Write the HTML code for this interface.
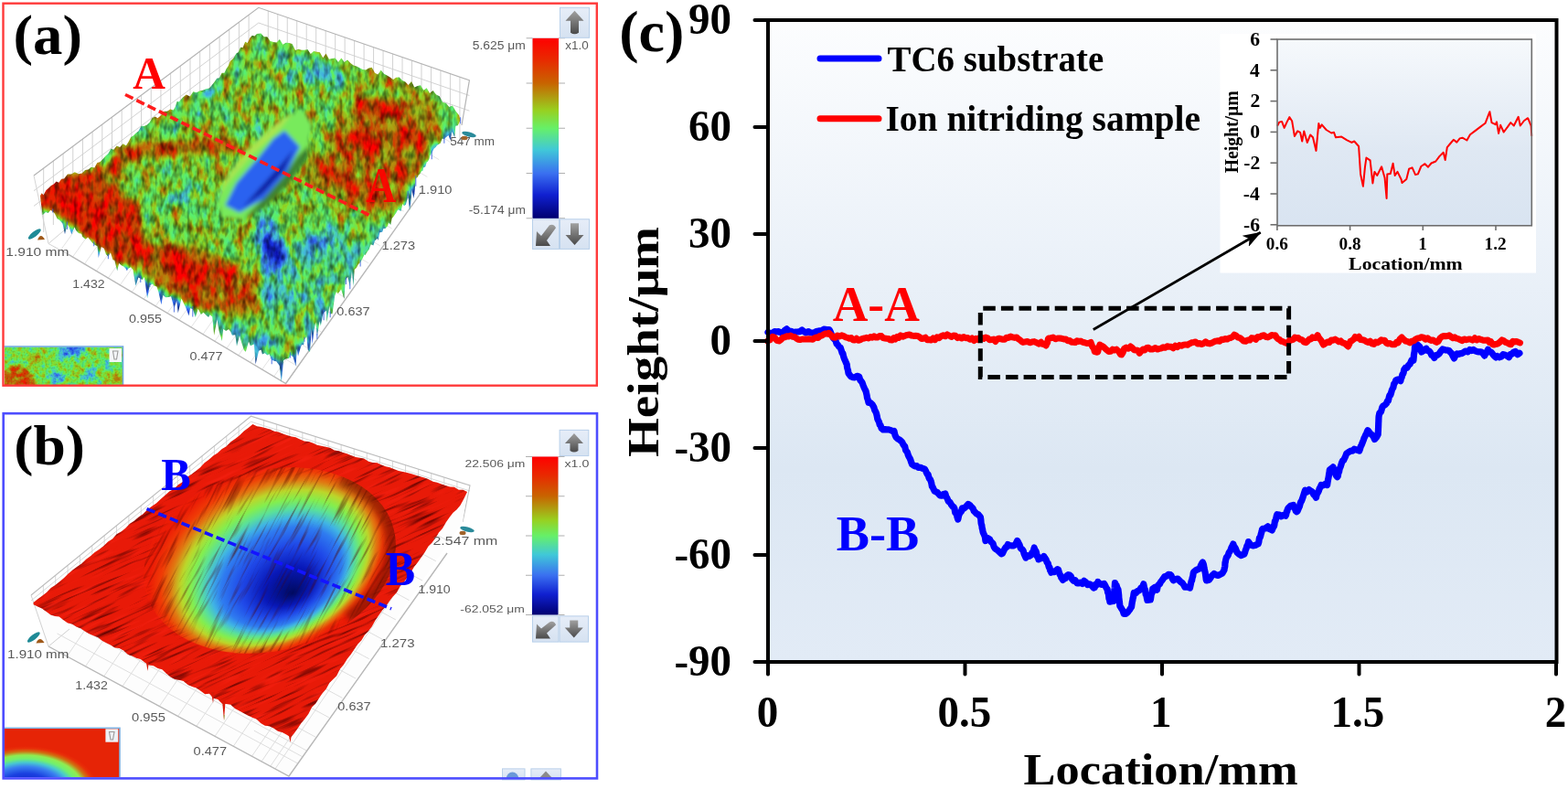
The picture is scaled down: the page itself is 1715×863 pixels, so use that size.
<!DOCTYPE html>
<html><head><meta charset="utf-8"><title>Surface morphology and cross-section profiles</title>
<style>
html,body{margin:0;padding:0;background:#fff;}
body{width:1715px;height:863px;overflow:hidden;}
svg{display:block;filter:blur(0.45px);}
</style></head><body>
<svg width="1715" height="863" viewBox="0 0 1715 863">
<defs>
<linearGradient id="plotbg" x1="0" y1="0" x2="0" y2="1">
<stop offset="0" stop-color="#fcfdfe"/>
<stop offset="0.35" stop-color="#ecf2f9"/>
<stop offset="0.7" stop-color="#dce7f3"/>
<stop offset="1" stop-color="#e2ebf6"/>
</linearGradient>
<linearGradient id="insetbg" x1="0" y1="0" x2="0" y2="1">
<stop offset="0" stop-color="#f6f9fc"/>
<stop offset="0.6" stop-color="#dfe8f3"/>
<stop offset="1" stop-color="#d9e4f1"/>
</linearGradient>
<linearGradient id="jet" x1="0" y1="0" x2="0" y2="1">
<stop offset="0" stop-color="#ff0000"/>
<stop offset="0.12" stop-color="#e82a00"/>
<stop offset="0.25" stop-color="#c86400"/>
<stop offset="0.4" stop-color="#98d020"/>
<stop offset="0.5" stop-color="#66f068"/>
<stop offset="0.62" stop-color="#40c8d8"/>
<stop offset="0.75" stop-color="#3a70f0"/>
<stop offset="0.87" stop-color="#1020d0"/>
<stop offset="1" stop-color="#000070"/>
</linearGradient>
<linearGradient id="btn" x1="0" y1="0" x2="0" y2="1">
<stop offset="0" stop-color="#e6edf8"/>
<stop offset="1" stop-color="#d6e2f1"/>
</linearGradient>
<linearGradient id="arrowg" x1="0" y1="0" x2="0" y2="1">
<stop offset="0" stop-color="#a0a0a0"/>
<stop offset="1" stop-color="#4a4a4a"/>
</linearGradient>
<marker id="ah" viewBox="0 0 20 14" refX="19" refY="7" markerWidth="20" markerHeight="14" markerUnits="userSpaceOnUse" orient="auto">
<path d="M0,0 L20,7 L0,14 L5,7 Z" fill="#000"/>
</marker>
</defs>

<rect x="840" y="22" width="862.5" height="702" fill="url(#plotbg)"/>
<rect x="1334.5" y="37" width="345.5" height="261.5" fill="#fff"/>
<rect x="1397" y="43" width="278.3" height="203.8" fill="url(#insetbg)"/>
<path d="M840,363.4 L842.5,364.9 L845,364.2 L847.2,362.5 L849.4,363 L851.6,362.6 L853.8,363.8 L856,364.8 L858.2,361.4 L860.4,359.8 L863.2,362.5 L865.5,362.3 L867.7,364.2 L870,363 L872.5,363 L875,362.6 L877.2,361 L879.4,362.8 L881.7,363.9 L884,362.6 L886.3,363.7 L888.1,364.1 L890,364.2 L892.8,362.5 L895.6,361.9 L898.3,361.9 L901,360.2 L903,360.4 L905,360.7 L907,360.6 L908,362.3 L909,364.8 L910,367.2 L911.3,369.7 L912.6,371 L913.8,372.1 L915.1,376.1 L916.4,377.2 L917.8,379.4 L919.2,380.1 L920.6,384.4 L921.2,386.3 L921.9,386.6 L922.5,389.5 L923.6,392.8 L924.6,394.9 L925.7,397.6 L926.2,398.5 L926.6,402 L927.1,403.8 L927.5,405.1 L928,408.2 L929.6,410.6 L931.1,412 L932.7,412.6 L935,412.8 L937.4,411.3 L939.7,411.9 L940.8,415.7 L942,417 L943.1,418.6 L944.3,422 L945.4,424.7 L946.6,427 L947.1,428.1 L947.6,430.3 L948.1,432.5 L948.5,435.2 L949,436.5 L949.5,438.1 L950,440.4 L952,440.6 L953.9,442.2 L955.9,445.6 L956.6,448.4 L957.2,449.3 L957.9,450.7 L958.5,452.1 L959.2,455 L959.8,458.3 L960.5,459.8 L961.4,461.4 L962.2,464.6 L963.1,465.2 L964,468.2 L966,470 L968,469.6 L970,469.8 L972,469.9 L974.4,470.6 L976.7,471.8 L977.9,471.4 L979,476 L980.2,478.4 L982.1,480.1 L984.1,481.2 L986,482.9 L986.9,483.9 L987.8,485.9 L988.8,487.4 L989.7,488.3 L990.6,492.4 L991.5,493.6 L992.4,494.6 L993.2,497.5 L994.1,499.5 L995,501.1 L995.9,503.1 L996.7,505.7 L997.6,507.9 L999.3,509.1 L1001,509.8 L1002.8,509.7 L1004.5,511.4 L1006.8,511.3 L1009.2,512.4 L1011.5,513.2 L1012.4,514.9 L1013.3,516.8 L1014.2,518.7 L1015.1,519 L1016,522.5 L1016.7,524 L1017.4,524.3 L1018.1,526.1 L1018.7,528.1 L1019.4,532.1 L1020.1,532.7 L1020.8,534.3 L1022.3,537.3 L1023.9,538 L1025.4,538.8 L1028.1,541.9 L1030,542.2 L1032,540.4 L1033.9,540 L1034.8,543.2 L1035.7,544.5 L1036.5,546.2 L1037.4,548.6 L1038.9,549.1 L1040.3,551.8 L1041.8,553.7 L1043.2,554.7 L1044,556.4 L1044.7,560.6 L1045.5,561.4 L1046.3,562.5 L1047,565.6 L1047.8,568.1 L1048.7,563.8 L1049.6,561.7 L1050.6,560 L1051.5,559.5 L1052.4,555.8 L1054,556.2 L1055.7,555 L1057.3,553.4 L1059,551.4 L1060.6,552.3 L1061.7,553.7 L1062.9,554.8 L1064,555.8 L1065.2,558.9 L1066.3,560 L1068.2,562 L1070.2,562.9 L1072.1,565.3 L1072.4,565.7 L1072.8,568.3 L1073.1,572.2 L1073.5,573.9 L1073.8,574.3 L1074.2,577.8 L1074.5,578.3 L1075.1,582 L1075.6,583.3 L1076.2,584.4 L1076.8,585.8 L1077.3,587.1 L1077.9,591.5 L1080.2,588.5 L1082.6,590.1 L1083.8,592.5 L1084.9,593.4 L1086,594.4 L1087.2,598.3 L1088.5,600.2 L1089.9,601 L1091.2,602 L1092.6,603.2 L1094,604.6 L1095.3,605.8 L1096.5,605.4 L1097.6,602.9 L1098.8,600.5 L1100,598.6 L1101.1,598.4 L1102.3,595.6 L1104.6,596.7 L1106.9,596.8 L1108.8,596.8 L1110.8,595.4 L1112.7,591.4 L1113.8,593.6 L1115,595.7 L1116.2,599.3 L1117.3,600.5 L1118.2,601.1 L1119.2,602.6 L1120.1,605.7 L1121.1,608 L1122,610.1 L1123.9,607.7 L1125.9,608.4 L1127.8,607.1 L1128.9,604.3 L1130.1,603.4 L1131.2,599 L1132,602.2 L1132.8,602.4 L1133.6,604.5 L1134.3,608.5 L1135.1,608.5 L1135.9,611.9 L1137.8,610.7 L1139.8,610.6 L1141.7,608.5 L1142.8,610.2 L1144,611.8 L1145.2,615.2 L1146.3,616.2 L1146.9,619.1 L1147.5,620.9 L1148,620.7 L1148.6,623.8 L1149.2,624.5 L1149.8,626.2 L1151.5,624.9 L1153.2,625.6 L1155,624 L1156.7,622.6 L1157.5,623.2 L1158.4,626 L1159.2,628.4 L1160,629.3 L1160.8,631.8 L1161.7,632.8 L1162.5,634.4 L1164,632.9 L1165.4,632.6 L1166.8,629.7 L1168.3,628.7 L1169.8,629.1 L1171.2,630.3 L1172.6,633.5 L1174.1,635.3 L1176,634.6 L1178,637.9 L1179.9,637.9 L1181.8,637.2 L1183.8,638.5 L1185.7,635.4 L1187.6,636.7 L1189.6,639.6 L1191.5,638.8 L1193,639.5 L1194.6,641.2 L1196.1,643 L1197.3,642.6 L1198.4,639.1 L1199.6,639.6 L1200.8,636.4 L1203.1,638.8 L1205.4,639.4 L1207.7,638.4 L1208.8,640.4 L1210,643.2 L1211.1,644.3 L1211.6,647.9 L1212,648.3 L1212.5,650.3 L1213,655.1 L1213.4,655.2 L1213.9,658.2 L1216,657.8 L1218.1,657.4 L1218.2,654.6 L1218.4,654.9 L1218.5,652.9 L1218.7,650.9 L1218.8,646.4 L1218.9,644.6 L1219.1,643.6 L1219.2,642.5 L1219.4,639.2 L1219.5,637.5 L1220.4,639.6 L1221.2,640.5 L1222.1,643.4 L1223,644.9 L1223.2,646.7 L1223.4,648.2 L1223.7,650.8 L1223.9,654.8 L1224.1,655.3 L1224.3,657.8 L1224.6,659.8 L1224.8,662.6 L1225,663.1 L1226,664.6 L1227.1,666.4 L1228.2,668.1 L1229.2,671.4 L1231.3,671.5 L1233.4,669.8 L1234.5,668.2 L1235.5,667 L1236.5,665.4 L1237.6,663.7 L1238,660.7 L1238.4,658.1 L1238.8,656.7 L1239.1,654.3 L1239.5,653.6 L1239.9,650.3 L1240.3,648.3 L1242.4,648.5 L1244.5,646.2 L1246.1,645.9 L1247.7,643.3 L1249.2,642.6 L1250.8,638.8 L1251.4,642 L1252,645 L1252.6,645.2 L1253.1,649.8 L1253.7,649.8 L1254.3,653.7 L1254.9,656.5 L1258.4,656 L1258.9,652.5 L1259.3,649.8 L1259.8,648.9 L1260.3,647.9 L1260.7,644.1 L1261.2,643.7 L1263.3,642.3 L1265.4,645.1 L1266.4,640.6 L1267.5,639.3 L1268.5,638.8 L1269.5,636.5 L1270.9,634.9 L1272.3,632.9 L1273.7,630.8 L1275.8,630.2 L1277.9,628.3 L1280,628.5 L1281.1,629.6 L1282.3,633 L1283.4,634.7 L1285.7,633.5 L1288.1,633 L1290.4,635.5 L1291.8,636.8 L1293.2,637.8 L1294.6,639.6 L1296,642.2 L1298.8,642.1 L1301.5,643 L1302,640.7 L1302.5,638.3 L1303.1,635.4 L1303.6,635 L1304.1,632.2 L1304.7,630.4 L1305.2,626.8 L1305.7,625.5 L1307.6,624 L1309.4,623 L1311.3,622.4 L1312.3,621.9 L1313.3,618.7 L1314.4,616.6 L1315.4,615.1 L1316,616.3 L1316.5,617.9 L1317.1,621.5 L1317.6,623.7 L1318.2,626.3 L1318.5,628.2 L1318.9,631.3 L1319.2,633.8 L1319.6,634.9 L1322.4,634.2 L1323.8,632.4 L1325.2,630 L1326.6,628.8 L1328,627.5 L1330.3,628.9 L1332.6,629.4 L1334.9,628.1 L1337,627 L1339.1,623.2 L1339.3,621.2 L1339.6,620.4 L1339.8,619.3 L1340,615.2 L1340.3,614.8 L1340.5,613.1 L1341.4,609.6 L1342.3,608.8 L1343.2,607.4 L1344.2,604.2 L1345.1,603.3 L1346,601.6 L1346.9,598.8 L1347.9,597.2 L1348.8,595 L1349.6,597.4 L1350.5,598.5 L1351.3,599.7 L1352.2,602.1 L1353,604.2 L1355.3,606.1 L1357.7,607.6 L1360,606.5 L1360.8,606.3 L1361.6,604.4 L1362.4,601.4 L1363.1,599.9 L1363.9,596.9 L1364.7,596.5 L1365.5,592.6 L1368.2,596.3 L1371,596.9 L1373.3,596.2 L1375.6,595 L1376.2,594.8 L1376.8,592.9 L1377.4,588.5 L1378,588.2 L1378.7,586.4 L1379.3,583.8 L1379.9,581.9 L1380.5,579.1 L1381.1,578.4 L1383.9,578 L1386.7,575.9 L1388.2,578.6 L1389.8,579.1 L1391.3,580 L1391.9,578.5 L1392.5,575.9 L1393.2,576.2 L1393.8,574.4 L1394.4,570.1 L1395,569.4 L1395.7,567 L1396.3,564.2 L1396.9,562.7 L1399.2,563 L1401.5,564.9 L1403.8,563.3 L1406.1,564.2 L1406.7,562.9 L1407.2,559.7 L1407.8,559.3 L1408.3,557.2 L1408.9,555.8 L1411.7,553.2 L1414.5,552.5 L1415.4,555.1 L1416.3,556.2 L1417.3,558.9 L1418.2,559.8 L1419,559.1 L1419.8,557.4 L1420.5,555.6 L1421.3,554.1 L1422.1,551 L1422.8,548.9 L1423.6,548 L1424.4,545.8 L1425.2,543.3 L1426,540.8 L1426.7,538.6 L1427.5,536.2 L1429.7,537.9 L1431.8,535.6 L1434,537.1 L1435.4,538.2 L1436.8,541 L1438.1,542 L1439.5,544.2 L1440.4,539.9 L1441.4,538.9 L1442.3,537.1 L1443.2,534.3 L1444.2,532.8 L1445.1,530.4 L1447.3,530.9 L1449.4,529.4 L1451.6,530.6 L1451.9,528.6 L1452.3,526.1 L1452.6,524.3 L1452.9,523.2 L1453.3,520.9 L1453.6,518.3 L1454,516.6 L1454.3,513.8 L1456.2,512.4 L1458,510.9 L1458.9,513.5 L1459.9,516.3 L1460.8,518.9 L1461.8,520.7 L1462.7,521.6 L1463.3,520.8 L1463.9,517.2 L1464.6,516 L1465.2,512.7 L1465.8,511.5 L1466.4,510 L1467.5,506.2 L1468.5,504 L1469.6,503.4 L1470.6,501.3 L1471.7,498.9 L1472.7,496.1 L1473.8,495.3 L1475.7,494.2 L1477.5,493 L1479.3,493.2 L1481.2,491.2 L1484,492.1 L1486.8,493 L1487.6,490.7 L1488.3,488.2 L1489.1,487 L1489.9,484.9 L1490.6,483.1 L1491.4,481.2 L1492.2,478.7 L1492.9,477.5 L1493.7,475.6 L1494.5,474.6 L1495.2,472.3 L1496,470.7 L1497.2,472.1 L1498.5,474 L1499.8,475.1 L1501,476.1 L1502.2,477.5 L1503.5,480.5 L1505.3,478.6 L1507.2,475.3 L1507.3,472.2 L1507.4,472.1 L1507.5,469 L1507.6,466.9 L1507.7,463.7 L1507.7,463 L1507.8,461.6 L1507.9,458.7 L1508,456.4 L1508.1,455.2 L1508.9,451.6 L1509.6,451.1 L1510.4,450.5 L1511.2,447.9 L1511.9,445.3 L1512.7,444.2 L1514.7,443 L1516.6,441 L1517.4,438.8 L1518.3,438.6 L1519.2,434.8 L1520,432.1 L1520.8,432.1 L1521.7,429.1 L1522.4,426.6 L1523.2,425 L1523.9,423.7 L1524.6,420.1 L1525.3,419.4 L1526.1,417.6 L1526.8,415.9 L1529.3,415 L1531.9,416.6 L1532.5,413.6 L1533.2,412.6 L1533.8,409.6 L1534.4,409.4 L1535.1,407.7 L1535.7,404.3 L1537.3,402.1 L1538.9,402.3 L1540.5,399.7 L1542.1,398.2 L1544,393.9 L1545.9,394.4 L1546.2,391.5 L1546.4,388.4 L1546.7,386.6 L1547,385.3 L1547.3,383.2 L1547.5,379.3 L1547.8,378.4 L1550,376.8 L1552.3,378.7 L1553.1,379.6 L1554,383.2 L1554.8,385 L1557.3,383.4 L1559.9,381.2 L1561.4,383.5 L1562.9,383.9 L1564.3,385.3 L1565.8,388.4 L1567.3,388.9 L1568.8,391.5 L1570.6,388.5 L1572.4,388.3 L1574.2,386.8 L1576,384.1 L1577.8,382 L1580.7,382.8 L1583.5,383.1 L1584.9,383.5 L1586.3,385.3 L1587.7,386.5 L1589.1,389.5 L1590.5,391.9 L1592.1,388.7 L1593.7,386.9 L1595.3,387.5 L1596.9,386.6 L1599,386.6 L1601.1,385.2 L1603.2,384 L1605.4,384.9 L1607.5,382.5 L1609.6,383.6 L1611.6,382.5 L1613.7,383.9 L1615.7,384.6 L1617.8,384.8 L1619.8,384.8 L1621.8,386.2 L1623.7,389.1 L1625,386.4 L1626.2,385 L1627.5,382.3 L1629.2,385 L1630.9,385.2 L1632.6,387.2 L1634.3,389.4 L1636,390.9 L1637.7,389.5 L1639.8,390.8 L1642,390.1 L1644.1,387.7 L1646.2,388.3 L1648.3,389.3 L1650.4,390.7 L1652.1,387.5 L1653.8,387.2 L1655.5,385.1 L1657.6,384.5 L1659.8,387.7 L1661.9,386.2" fill="none" stroke="#0000ff" stroke-width="7.2" stroke-linejoin="round" stroke-linecap="round"/>
<path d="M839.4,372.9 L842.2,371.8 L845,368.3 L847.3,369.3 L849.7,372.3 L852,373 L854.1,371.6 L856.2,369.3 L858.3,368.9 L860.4,367.7 L862.5,368 L864.6,367.1 L866.7,368.3 L868.8,368.5 L870.9,369.9 L873,371.2 L875.1,371.6 L877.2,371 L879.7,371.1 L882.1,371 L884.5,370.7 L887,371 L889,371.2 L890.9,369.8 L892.9,369 L894.8,369.5 L896.8,367.5 L898.8,367.1 L900.7,365.8 L902.7,364.8 L904.6,365.2 L906.6,364.3 L908.9,366.5 L911.3,369 L913.6,369.3 L915.9,367 L918.3,368 L920.6,366.8 L922.7,367.5 L924.8,368.9 L926.9,369.4 L929,370.3 L931,369.5 L932.9,371.7 L934.9,372.1 L936.8,370.2 L938.8,372.3 L941,371.6 L943.3,370.4 L945.5,370 L947.8,369.3 L950,370 L952,368.6 L954,369.3 L956,367.8 L958,369.1 L960,368.9 L962,367.5 L964,367.6 L965.9,369.6 L967.9,370 L969.8,370.3 L971.8,370.5 L973.7,371.8 L975.6,372 L977.4,369.7 L979.3,371 L981.2,368.4 L983,369.4 L984.9,366.9 L987.4,368.3 L989.8,367.3 L992.2,366.4 L994.7,366 L996.9,367 L999.2,367.4 L1001.4,367.2 L1003.7,367.4 L1005.9,368.8 L1008,370.5 L1010.1,370.2 L1012.2,369.2 L1014.3,371.8 L1016.4,371.5 L1018.5,372 L1020.6,370 L1022.7,371.6 L1024.9,368.8 L1027.2,369.6 L1029.4,367.7 L1031.7,366.8 L1033.9,367.8 L1036.1,365.9 L1038.4,367.3 L1040.6,368.5 L1042.9,367.1 L1045.1,367.3 L1047.3,369.6 L1049.6,368.7 L1051.8,370 L1054.1,368.5 L1056.3,369.8 L1058.5,369.6 L1060.8,371.2 L1063,369.9 L1065.3,372.6 L1067.5,370.3 L1069.6,371.7 L1071.7,369.2 L1073.8,369.3 L1075.9,370.4 L1078.1,369.1 L1080.3,369.8 L1082.4,371.8 L1084.6,371.5 L1086.8,371.1 L1088.8,373.5 L1090.8,370.8 L1092.8,370.2 L1094.8,370.8 L1096.8,371.2 L1098.8,371.3 L1100.8,369.2 L1103,369.4 L1105.3,368.1 L1107.5,368.9 L1109.8,369.4 L1112,368.9 L1113.8,370.7 L1115.5,371.7 L1117.2,373.4 L1119,374.4 L1121.5,373.9 L1123.9,373.4 L1126.3,374.8 L1128.8,374 L1131.2,373.6 L1133.7,374.7 L1136.1,376.1 L1138.6,374.2 L1140.5,376.4 L1142.3,376.8 L1144.2,378 L1144.9,374.9 L1145.6,375.1 L1146.3,371 L1147,369.9 L1149.5,369.7 L1151.9,369 L1154.3,370.8 L1156.8,370 L1159,370 L1161.3,370.3 L1163.5,370.9 L1165.8,371 L1168,372.8 L1170,372.6 L1172,374.2 L1174,374.2 L1176,374.6 L1178,372.7 L1180,373.4 L1182,373.1 L1184.2,374.3 L1186.4,374.7 L1188.7,375.5 L1190.9,375.5 L1193.1,374.5 L1193.9,376.9 L1194.8,379.2 L1195.6,379.7 L1196.5,381.7 L1197.3,384.7 L1200.1,385.3 L1200.8,384.9 L1201.5,381.5 L1202.2,379 L1202.9,377.1 L1204.8,378.2 L1206.6,379.1 L1208.5,380.9 L1210.6,382.8 L1212.7,384.5 L1214.8,384.3 L1216.9,382.1 L1219,383 L1221.1,382.1 L1222.2,383.1 L1223.3,384 L1224.5,385.9 L1225.6,387.7 L1226.7,387.9 L1227.6,386.6 L1228.6,384.6 L1229.5,381.3 L1231.8,380.1 L1234.2,381.2 L1236.5,379 L1238.5,380.6 L1240.4,382.8 L1242.4,383.1 L1244.3,383.3 L1246.3,386.4 L1248.3,383.8 L1250.2,382 L1252.2,383 L1254.1,380.5 L1256.1,380.3 L1258.5,382.1 L1261,382 L1263.5,380.5 L1265.9,382.1 L1268,381.4 L1270.1,381.1 L1272.2,379.8 L1274.3,380.3 L1276.5,378.8 L1278.8,379.2 L1281,379.3 L1283.3,380.8 L1285.5,378.2 L1287.7,379.6 L1290,377.6 L1292.2,378.2 L1294.5,377.2 L1296.7,376.9 L1298.9,377.3 L1301.1,375.9 L1303.3,374.8 L1305.5,374.4 L1307.7,373.9 L1309.9,376.1 L1312.1,375.5 L1314.3,376.4 L1316.5,375.6 L1318.7,373.8 L1320.9,375.5 L1323.1,375.9 L1325.3,375.2 L1327.5,374 L1329.7,373.1 L1331.9,372.8 L1334.1,373.2 L1336.3,371.2 L1338.5,371.4 L1340.4,370.5 L1342.3,371.1 L1344.2,369.9 L1346.2,369.5 L1348.1,368.5 L1350,366.2 L1352.1,367.2 L1354.1,369.1 L1356.2,369.6 L1358.2,371.2 L1360.3,373.1 L1362.5,373.3 L1364.7,371.9 L1366.9,372.1 L1369.1,369.6 L1371.3,369.9 L1373.5,371.3 L1375.7,368.4 L1378,368.7 L1380.2,367.2 L1382.5,366.8 L1384.7,368.6 L1386.7,368.9 L1388.8,367.9 L1390.8,366.5 L1392.9,366.9 L1394.9,366.7 L1396.4,369.4 L1398,370.8 L1399.5,371.5 L1401.1,373.2 L1402.6,373.4 L1404.7,374.4 L1406.9,375.4 L1409,374.6 L1410.8,371.7 L1412.6,371.9 L1414.4,371.4 L1416.2,369.1 L1418,369.8 L1420.1,369.6 L1422.1,371.3 L1424.2,371.6 L1426.2,374.2 L1428.3,374.7 L1430.1,373.2 L1432,371.1 L1433.8,371 L1435.6,368.9 L1437.4,369.6 L1439.3,369.5 L1441.1,366.6 L1442.4,369.2 L1443.7,370.8 L1444.9,372.2 L1446.2,374.7 L1447.5,377 L1449.7,375.5 L1451.8,374 L1454,374.5 L1456.1,371.9 L1458.2,372.2 L1460.4,371.1 L1462.4,372.4 L1464.4,373.7 L1466.4,372.9 L1468.5,375 L1470.5,375.4 L1472.5,377.2 L1474.5,379 L1475.8,376.5 L1477.1,373.1 L1478.3,372.8 L1479.6,371.9 L1480.9,370.8 L1482.2,368.5 L1484.2,369.7 L1486.3,368.3 L1488.3,371.6 L1490.4,371.8 L1492.4,372.2 L1494.5,373.8 L1496.5,374.5 L1498.6,373.1 L1500.6,375.9 L1502.7,376.5 L1504.7,374.1 L1506.7,374.8 L1508.7,373.6 L1510.7,371.7 L1512.7,372.6 L1514.4,372.2 L1516.1,374.9 L1517.8,375.9 L1520.4,375.6 L1522.9,376.8 L1525.5,376.7 L1527.4,374.4 L1529.3,374.9 L1531.2,370.8 L1533.1,369 L1535.3,371.3 L1537.6,373.2 L1539.8,373.7 L1542.1,374.9 L1544.1,373.3 L1546.2,372.9 L1548.2,371.1 L1550.3,370 L1552.3,369.8 L1554.6,368.7 L1556.9,369.1 L1559.1,371.2 L1561.4,369.8 L1563.7,371.7 L1565.6,372.4 L1567.6,372 L1569.5,373.4 L1571.4,374.4 L1573.3,373.2 L1575.2,369.7 L1577.1,368.3 L1579,367.5 L1581,367.8 L1583.1,367.5 L1585.1,366.8 L1587.2,368.5 L1589.2,369.8 L1591.1,368.9 L1593.1,370.2 L1595,370.6 L1596.9,371.5 L1599.2,372.6 L1601.5,370.9 L1603.8,371.7 L1606.1,371.1 L1608.4,371.1 L1610.7,372.2 L1613,369.8 L1615.2,371.9 L1617.5,370.5 L1619.8,371.4 L1622.4,372.3 L1624.9,372.3 L1627.5,372 L1629.1,374.5 L1630.7,373.7 L1632.3,376.5 L1633.9,377.1 L1635.7,376.5 L1637.5,376.3 L1639.2,375.2 L1641,373.7 L1642.8,371.8 L1644.7,372.7 L1646.6,374.4 L1648.5,374.9 L1650.4,376.2 L1652.5,376.8 L1654.7,373.2 L1656.8,373.9 L1658.7,373.5 L1660.6,374.3 L1662.5,375" fill="none" stroke="#ff0000" stroke-width="7" stroke-linejoin="round" stroke-linecap="round"/>
<rect x="1072.3" y="337.2" width="337.3" height="75.2" fill="none" stroke="#000" stroke-width="5" stroke-dasharray="13.5 6.1" stroke-dashoffset="-3"/>
<line x1="1195.8" y1="360.5" x2="1378.7" y2="254.3" stroke="#000" stroke-width="2.8" marker-end="url(#ah)"/>
<path d="M1397.1,137.8 L1399.2,133.6 L1402,132.9 L1404.7,139.9 L1407.5,133.6 L1410.3,128.1 L1413.1,132.2 L1415.9,148.9 L1419.3,143.4 L1422.1,144.8 L1424.2,154.5 L1426.3,143.4 L1429.8,155.9 L1433.2,147.5 L1436,150.3 L1439.5,164.9 L1442.3,135 L1443.7,139.9 L1445.7,136.4 L1450.6,142 L1456.2,145.5 L1459,144.8 L1461,150.3 L1467.3,149.6 L1472.9,153.1 L1478.4,155.9 L1481.2,154.5 L1486.1,160 L1488.1,190.6 L1490.9,203.8 L1493,182.3 L1494.4,172.6 L1498.6,175.3 L1501.4,200.4 L1503.4,187.9 L1506.2,192 L1511.1,182.3 L1514.6,194.8 L1516.6,217 L1517.3,190.6 L1520.8,189.9 L1523.6,178.8 L1525.7,192 L1528.5,187.9 L1532.6,196.2 L1533.5,200.1 L1538.3,195.9 L1541.1,184.8 L1544.6,183.4 L1548.1,191.1 L1550.9,190.4 L1554.3,182 L1558.5,179.2 L1562,182.7 L1565.5,178.5 L1570.3,176.5 L1574.5,170.9 L1578.7,166.7 L1580.7,175.1 L1582.8,161.2 L1586.3,157 L1589.8,152.8 L1593.3,155.6 L1596.7,151.4 L1599.5,150.7 L1604.4,153.5 L1607.9,147.3 L1613.4,143.1 L1619,138.9 L1624.5,134.8 L1629.4,122.2 L1631.5,134.1 L1635.7,136.1 L1637,133.4 L1639.1,145.9 L1641.2,136.8 L1644.7,144.5 L1648.9,138.9 L1652.3,134.1 L1655.8,137.5 L1660.7,127.8 L1662.8,137.5 L1667,132 L1671.1,129.2 L1674.6,137.5 L1675.3,148.7" fill="none" stroke="#ff0000" stroke-width="2" stroke-linejoin="round"/>
<rect x="1397" y="43" width="278.3" height="203.8" fill="none" stroke="#6e6e6e" stroke-width="1.6"/>
<line x1="1389.5" y1="43" x2="1397" y2="43" stroke="#6e6e6e" stroke-width="1.6"/>
<text transform="translate(1367.15,49.7) scale(1.08,1)" font-family="'Liberation Serif', 'Times New Roman', serif" font-weight="bold" font-size="20" fill="#000">6</text>
<line x1="1389.5" y1="76.8" x2="1397" y2="76.8" stroke="#6e6e6e" stroke-width="1.6"/>
<text transform="translate(1366.88,83.5) scale(1.08,1)" font-family="'Liberation Serif', 'Times New Roman', serif" font-weight="bold" font-size="20" fill="#000">4</text>
<line x1="1389.5" y1="110.6" x2="1397" y2="110.6" stroke="#6e6e6e" stroke-width="1.6"/>
<text transform="translate(1367.42,117.3) scale(1.08,1)" font-family="'Liberation Serif', 'Times New Roman', serif" font-weight="bold" font-size="20" fill="#000">2</text>
<line x1="1389.5" y1="144.4" x2="1397" y2="144.4" stroke="#6e6e6e" stroke-width="1.6"/>
<text transform="translate(1367.31,151.1) scale(1.08,1)" font-family="'Liberation Serif', 'Times New Roman', serif" font-weight="bold" font-size="20" fill="#000">0</text>
<line x1="1389.5" y1="178.2" x2="1397" y2="178.2" stroke="#6e6e6e" stroke-width="1.6"/>
<text transform="translate(1360.24,184.9) scale(1.08,1)" font-family="'Liberation Serif', 'Times New Roman', serif" font-weight="bold" font-size="20" fill="#000">-2</text>
<line x1="1389.5" y1="212" x2="1397" y2="212" stroke="#6e6e6e" stroke-width="1.6"/>
<text transform="translate(1359.7,218.7) scale(1.08,1)" font-family="'Liberation Serif', 'Times New Roman', serif" font-weight="bold" font-size="20" fill="#000">-4</text>
<line x1="1389.5" y1="245.8" x2="1397" y2="245.8" stroke="#6e6e6e" stroke-width="1.6"/>
<text transform="translate(1359.97,252.5) scale(1.08,1)" font-family="'Liberation Serif', 'Times New Roman', serif" font-weight="bold" font-size="20" fill="#000">-6</text>
<line x1="1396.9" y1="246.8" x2="1396.9" y2="252" stroke="#6e6e6e" stroke-width="1.6"/>
<text transform="translate(1384.81,273) scale(1.08,1)" font-family="'Liberation Serif', 'Times New Roman', serif" font-weight="bold" font-size="17.8" fill="#000">0.6</text>
<line x1="1476.6" y1="246.8" x2="1476.6" y2="252" stroke="#6e6e6e" stroke-width="1.6"/>
<text transform="translate(1464.54,273) scale(1.08,1)" font-family="'Liberation Serif', 'Times New Roman', serif" font-weight="bold" font-size="17.8" fill="#000">0.8</text>
<line x1="1556.3" y1="246.8" x2="1556.3" y2="252" stroke="#6e6e6e" stroke-width="1.6"/>
<text transform="translate(1551.23,273) scale(1.08,1)" font-family="'Liberation Serif', 'Times New Roman', serif" font-weight="bold" font-size="17.8" fill="#000">1</text>
<line x1="1636" y1="246.8" x2="1636" y2="252" stroke="#6e6e6e" stroke-width="1.6"/>
<text transform="translate(1623.62,273) scale(1.08,1)" font-family="'Liberation Serif', 'Times New Roman', serif" font-weight="bold" font-size="17.8" fill="#000">1.2</text>
<text transform="translate(1475.12,294.72) scale(1.2,1)" font-family="'Liberation Serif', 'Times New Roman', serif" font-weight="bold" font-size="18.16" fill="#000">Location/mm</text>
<text transform="translate(1354.13,189.34) rotate(-90) scale(0.97,1)" font-family="'Liberation Serif', 'Times New Roman', serif" font-weight="bold" font-size="20.33" fill="#000">Height/μm</text>
<rect x="840" y="22" width="862.5" height="702" fill="none" stroke="#000" stroke-width="4"/>
<line x1="825.5" y1="22" x2="840" y2="22" stroke="#000" stroke-width="4" stroke-linecap="round"/>
<text transform="translate(753.02,36.5) scale(0.97,1)" font-family="'Liberation Serif', 'Times New Roman', serif" font-weight="bold" font-size="48.5" fill="#000">90</text>
<line x1="825.5" y1="139" x2="840" y2="139" stroke="#000" stroke-width="4" stroke-linecap="round"/>
<text transform="translate(753.02,153.5) scale(0.97,1)" font-family="'Liberation Serif', 'Times New Roman', serif" font-weight="bold" font-size="48.5" fill="#000">60</text>
<line x1="825.5" y1="256" x2="840" y2="256" stroke="#000" stroke-width="4" stroke-linecap="round"/>
<text transform="translate(753.02,270.5) scale(0.97,1)" font-family="'Liberation Serif', 'Times New Roman', serif" font-weight="bold" font-size="48.5" fill="#000">30</text>
<line x1="825.5" y1="373" x2="840" y2="373" stroke="#000" stroke-width="4" stroke-linecap="round"/>
<text transform="translate(776.54,387.5) scale(0.97,1)" font-family="'Liberation Serif', 'Times New Roman', serif" font-weight="bold" font-size="48.5" fill="#000">0</text>
<line x1="825.5" y1="490" x2="840" y2="490" stroke="#000" stroke-width="4" stroke-linecap="round"/>
<text transform="translate(737.38,504.5) scale(0.97,1)" font-family="'Liberation Serif', 'Times New Roman', serif" font-weight="bold" font-size="48.5" fill="#000">-30</text>
<line x1="825.5" y1="607" x2="840" y2="607" stroke="#000" stroke-width="4" stroke-linecap="round"/>
<text transform="translate(737.38,621.5) scale(0.97,1)" font-family="'Liberation Serif', 'Times New Roman', serif" font-weight="bold" font-size="48.5" fill="#000">-60</text>
<line x1="825.5" y1="724" x2="840" y2="724" stroke="#000" stroke-width="4" stroke-linecap="round"/>
<text transform="translate(737.38,738.5) scale(0.97,1)" font-family="'Liberation Serif', 'Times New Roman', serif" font-weight="bold" font-size="48.5" fill="#000">-90</text>
<line x1="840" y1="724" x2="840" y2="737.5" stroke="#000" stroke-width="4" stroke-linecap="round"/>
<text transform="translate(827.74,794.8) scale(0.97,1)" font-family="'Liberation Serif', 'Times New Roman', serif" font-weight="bold" font-size="48.5" fill="#000">0</text>
<line x1="1055.5" y1="724" x2="1055.5" y2="737.5" stroke="#000" stroke-width="4" stroke-linecap="round"/>
<text transform="translate(1025.6,794.8) scale(0.97,1)" font-family="'Liberation Serif', 'Times New Roman', serif" font-weight="bold" font-size="48.5" fill="#000">0.5</text>
<line x1="1271" y1="724" x2="1271" y2="737.5" stroke="#000" stroke-width="4" stroke-linecap="round"/>
<text transform="translate(1258.09,794.8) scale(0.97,1)" font-family="'Liberation Serif', 'Times New Roman', serif" font-weight="bold" font-size="48.5" fill="#000">1</text>
<line x1="1486.5" y1="724" x2="1486.5" y2="737.5" stroke="#000" stroke-width="4" stroke-linecap="round"/>
<text transform="translate(1455.6,794.8) scale(0.97,1)" font-family="'Liberation Serif', 'Times New Roman', serif" font-weight="bold" font-size="48.5" fill="#000">1.5</text>
<line x1="1702" y1="724" x2="1702" y2="737.5" stroke="#000" stroke-width="4" stroke-linecap="round"/>
<text transform="translate(1689.74,794.8) scale(0.97,1)" font-family="'Liberation Serif', 'Times New Roman', serif" font-weight="bold" font-size="48.5" fill="#000">2</text>
<text transform="translate(1119.48,857.6) scale(1.06,1)" font-family="'Liberation Serif', 'Times New Roman', serif" font-weight="bold" font-size="49.5" fill="#000">Location/mm</text>
<text transform="translate(720.05,500.07) rotate(-90) scale(1.13,1)" font-family="'Liberation Serif', 'Times New Roman', serif" font-weight="bold" font-size="48.85" fill="#000">Height/μm</text>
<line x1="897" y1="64" x2="961" y2="64" stroke="#0000ff" stroke-width="7" stroke-linecap="round"/>
<line x1="897" y1="129.7" x2="961" y2="129.7" stroke="#ff0000" stroke-width="7" stroke-linecap="round"/>
<text transform="translate(970.61,77.81) scale(0.99,1)" font-family="'Liberation Serif', 'Times New Roman', serif" font-weight="bold" font-size="39.29" fill="#000">TC6 substrate</text>
<text transform="translate(968.41,142.59) scale(1.01,1)" font-family="'Liberation Serif', 'Times New Roman', serif" font-weight="bold" font-size="39.13" fill="#000">Ion nitriding sample</text>
<text transform="translate(910.67,351.1) scale(0.96,1)" font-family="'Liberation Serif', 'Times New Roman', serif" font-weight="bold" font-size="55.76" fill="#ff0000">A-A</text>
<text transform="translate(914.75,601.66) scale(0.97,1)" font-family="'Liberation Serif', 'Times New Roman', serif" font-weight="bold" font-size="55.97" fill="#0000ff">B-B</text>
<text transform="translate(677.13,56.35) scale(1.02,1)" font-family="'Liberation Serif', 'Times New Roman', serif" font-weight="bold" font-size="62.81" fill="#000">(c)</text>
<defs><filter id="jetA" filterUnits="userSpaceOnUse" x="0" y="0" width="660" height="430" color-interpolation-filters="sRGB">
<feGaussianBlur in="SourceGraphic" stdDeviation="3.5" result="hm"/>
<feTurbulence type="fractalNoise" baseFrequency="0.09 0.045" numOctaves="3" seed="7" result="tn"/>
<feColorMatrix in="tn" type="matrix" values="1 0 0 0 0  1 0 0 0 0  1 0 0 0 0  0 0 0 0 1" result="n0"/>
<feComponentTransfer in="n0" result="n"><feFuncR type="table" tableValues="0.12 0.36 0.5 0.78 1"/><feFuncG type="table" tableValues="0.12 0.36 0.5 0.78 1"/><feFuncB type="table" tableValues="0.12 0.36 0.5 0.78 1"/></feComponentTransfer>
<feComposite in="hm" in2="n" operator="arithmetic" k1="0" k2="1" k3="0.62" k4="-0.31" result="h"/>
<feComponentTransfer in="h" result="c">
<feFuncR type="table" tableValues="0 0.04 0.1 0.22 0.27 0.35 0.55 0.69 0.78 0.92 1"/>
<feFuncG type="table" tableValues="0 0.06 0.2 0.47 0.76 0.94 0.86 0.59 0.31 0.12 0"/>
<feFuncB type="table" tableValues="0.39 0.67 0.88 0.94 0.84 0.43 0.16 0.06 0.02 0 0"/>
<feFuncA type="table" tableValues="1 1"/>
</feComponentTransfer>
<feTurbulence type="fractalNoise" baseFrequency="0.2 0.09" numOctaves="2" seed="11" result="t2"/>
<feColorMatrix in="t2" type="matrix" values="1.2 0 0 0 0.27  1.2 0 0 0 0.27  1.2 0 0 0 0.27  0 0 0 0 1" result="n2"/>
<feBlend in="c" in2="n2" mode="multiply"/>
<feGaussianBlur stdDeviation="0.7"/></filter><filter id="soft3" x="-20%" y="-20%" width="140%" height="140%"><feGaussianBlur stdDeviation="3"/></filter><filter id="soft2" x="-20%" y="-20%" width="140%" height="140%"><feGaussianBlur stdDeviation="2"/></filter><filter id="soft1" x="-20%" y="-20%" width="140%" height="140%"><feGaussianBlur stdDeviation="1"/></filter></defs>
<polygon points="37,192 282.8,8.3 282,60 37,262" fill="#fff"/>
<polygon points="282.8,8.3 513.4,87.8 510,140 282,60" fill="#fff"/>
<path d="M47.69,184.01 v70 M58.37,176.03 v70 M69.06,168.04 v70 M79.75,160.05 v70 M90.43,152.07 v70 M101.12,144.08 v70 M111.81,136.09 v70 M122.5,128.1 v70 M133.18,120.12 v70 M143.87,112.13 v70 M154.56,104.14 v70 M165.24,96.16 v70 M175.93,88.17 v70 M186.62,80.18 v70 M197.3,72.2 v70 M207.99,64.21 v70 M218.68,56.22 v70 M229.37,48.23 v70 M240.05,40.25 v70 M250.74,32.26 v70 M261.43,24.27 v70 M272.11,16.29 v70 M293.28,11.91 v70 M303.76,15.53 v70 M314.25,19.14 v70 M324.73,22.75 v70 M335.21,26.37 v70 M345.69,29.98 v70 M356.17,33.6 v70 M366.65,37.21 v70 M377.14,40.82 v70 M387.62,44.44 v70 M398.1,48.05 v70 M408.58,51.66 v70 M419.06,55.28 v70 M429.55,58.89 v70 M440.03,62.5 v70 M450.51,66.12 v70 M460.99,69.73 v70 M471.47,73.35 v70 M481.95,76.96 v70 M492.44,80.57 v70 M502.92,84.19 v70 M37,208.7 L282.8,25.0 L513.4,104.5 M37,225.4 L282.8,41.7 L513.4,121.19999999999999" stroke="#cdcdcd" stroke-width="0.9" fill="none"/>
<path d="M37,192 L282.8,8.3 L513.4,87.8 L505,137" stroke="#b4b4b4" stroke-width="1.2" fill="none"/>
<path d="M65.98,274.15 L105.98,217.67 M78.96,281.8 L118.96,225.32 M91.94,289.45 L131.94,232.97 M104.92,297.1 L144.92,240.62 M117.9,304.75 L157.9,248.27 M130.88,312.4 L170.88,255.92 M143.86,320.05 L183.86,263.57 M156.84,327.7 L196.84,271.22 M169.82,335.35 L209.82,278.87 M182.8,343 L222.8,286.52 M195.78,350.65 L235.78,294.17 M208.76,358.3 L248.76,301.82 M221.74,365.95 L261.74,309.47 M234.72,373.6 L274.72,317.12 M247.7,381.25 L287.7,324.77 M260.68,388.9 L300.68,332.42 M273.66,396.55 L313.66,340.07 M286.64,404.2 L326.64,347.72 M299.62,411.85 L339.62,355.37 M312.6,419.5 L352.6,363.02 M325.49,400.67 L280.49,373.86 M338.39,381.83 L293.39,355.03 M351.28,363 L306.28,336.2 M364.17,344.17 L319.17,317.36 M377.07,325.33 L332.07,298.53 M389.96,306.5 L344.96,279.7 M402.85,287.67 L357.85,260.86 M415.75,268.83 L370.75,242.03 M428.64,250 L383.64,223.2 M441.53,231.17 L396.53,204.36 M454.43,212.33 L409.43,185.53 M467.32,193.5 L422.32,166.7 M480.21,174.67 L435.21,147.86 M493.11,155.83 L448.11,129.03" stroke="#e0e0e0" stroke-width="0.9" fill="none"/>
<path d="M75,278.3 L312.6,419.5 L460.7,210.4" stroke="#b8b8b8" stroke-width="1.4" fill="none"/>
<path d="M37,192 L53,266.5 L75,278.3 M53,266.5 L76,247" stroke="#d4d4d4" stroke-width="1" fill="none"/>
<defs><clipPath id="surfA2"><path d="M44,214 L45.75,211.26 L47.5,213.5 L50.31,208.27 L53.12,205.79 L55.94,202.94 L58.75,201.49 L61.56,198.5 L64.38,199.81 L67.19,195.8 L70,195.4 L73.94,190.43 L77.88,190.4 L81.82,188.2 L85.76,190.15 L89.7,189.4 L93.1,186.02 L96.5,185.41 L99.9,182.72 L103.3,183.4 L106.3,178.07 L109.3,177.28 L112.3,174.3 L115.3,170.81 L118.3,167.93 L121.3,162.76 L124.3,163.8 L127.7,159.61 L131.1,160.91 L134.5,157.24 L137.9,159.3 L140.53,155.34 L143.15,150.03 L145.78,148.59 L148.4,145.7 L151.43,143.44 L154.45,137.71 L157.47,138.11 L160.5,136.7 L163.5,133.96 L166.5,129.02 L169.5,127.59 L172.5,129.2 L175.94,126.3 L179.38,121.87 L182.82,121.82 L186.26,119.53 L189.7,120.5 L191.7,116.65 L193.7,110.67 L195.7,111.4 L199.73,106.64 L203.77,103.53 L207.8,105.4 L211.32,100.33 L214.83,101.2 L218.35,99.46 L221.87,98.74 L225.38,97.32 L228.9,96.4 L231.65,93.37 L234.4,89.66 L237.15,85.69 L239.9,85.32 L242.65,79.85 L245.4,79.8 L247.56,75.22 L249.71,72.1 L251.87,66.84 L254.03,64.96 L256.19,62.39 L258.34,58.5 L260.5,57.2 L263.06,51.86 L265.62,51.92 L268.19,45.72 L270.75,47.01 L273.31,41.58 L275.88,38.67 L278.44,39.45 L281,37 L285.42,36.52 L288.83,40.3 L292.25,40.28 L295.67,44.95 L299.08,45.97 L302.5,46.41 L305.92,43.02 L309.33,48.82 L312.75,46.72 L316.17,46.92 L319.58,48.1 L323,55 L326.36,53.86 L329.71,54.73 L333.07,54.64 L336.43,54.06 L339.79,58.99 L343.14,56.08 L346.5,56.72 L349.86,57.27 L353.21,63.14 L356.57,58.61 L359.93,64.67 L363.29,64.1 L366.64,63.41 L370,68 L373.33,63.55 L376.67,68.07 L380,65.62 L383.33,68.95 L386.67,71.4 L390,72.43 L393.33,74.32 L396.67,75.98 L400,76.61 L403.33,74.42 L406.67,73.63 L410,79.7 L413.33,81.43 L416.67,76.86 L420,80.63 L423.33,82.45 L426.67,84.52 L430,87 L433.33,84.69 L436.67,84.54 L440,88.02 L443.33,89.47 L446.67,92.92 L450,89 L453.33,95.55 L456.67,94.04 L460,93.22 L463.33,98.72 L466.67,96.36 L470,102 L473.56,98.97 L477.11,103.55 L480.67,105.27 L484.22,112.03 L487.78,112.73 L491.33,117.1 L494.89,115.6 L498.44,121.56 L502,126 L503.56,131.17 L500.81,137.17 L498.33,137.77 L497.28,150.28 L494.33,144.05 L492.62,153.48 L490.46,148.07 L488.01,149.92 L485.83,152.32 L483.68,151.47 L481.71,156.84 L477.97,159.05 L476.77,160.83 L474.49,162.74 L472.23,167.58 L470.36,169.91 L469.5,173.4 L467.83,177.08 L466.94,176.71 L465.31,182.31 L463.07,183.54 L462.46,186.71 L461.24,186.95 L458.64,191.21 L458.24,190.62 L456.81,193.78 L454.76,195.29 L453.29,212.19 L452.21,217.01 L450.58,207.53 L449.25,221.68 L448,230.39 L446.15,211.75 L445.53,218.07 L443.87,223.71 L441.91,225.16 L440.34,222.94 L438.53,231.11 L435.67,229.34 L434.77,230.11 L433.33,232.81 L430.39,236.93 L428.75,238.81 L427.21,245.96 L425.17,243.52 L424.07,247.08 L421.37,250.09 L419.44,249.97 L418.17,253.64 L415.4,254.15 L413.48,263.08 L412.78,260.87 L409.96,263.55 L408.39,268.51 L405.68,267.33 L403.67,272.73 L401.78,275.21 L399.26,279.22 L398.67,278.27 L395.22,285.22 L394.12,286.95 L391.97,288.96 L389.83,292.88 L387.67,294.96 L386.54,313.25 L384.91,297.11 L382.77,313.31 L380.37,302.64 L378.46,305.79 L377.85,305.84 L376.38,326.89 L373.12,316.3 L372.31,317.74 L369.72,321.05 L367.98,318.97 L366.23,323.74 L364.81,333.52 L363.64,342.72 L361.2,343.38 L360.45,334.2 L357.44,352.43 L356.91,339.75 L354.12,341.88 L353.15,344.53 L350.79,356.62 L349.59,351.16 L346.85,368.02 L345.33,352.21 L343.72,360.14 L341.54,376.65 L340.79,360.06 L339.01,385.12 L336.77,382.75 L335.43,368.15 L332.92,371.44 L332.24,377.32 L330.03,377.03 L328.63,380.65 L326.02,389.46 L324.72,381.78 L323.62,400.58 L320.44,390.17 L317.45,388.36 L316.11,392.12 L312.64,392.4 L310.08,394.3 L307.79,417.94 L305.71,399.99 L302.25,395.16 L300.56,394.97 L297.24,393.82 L294.47,387.32 L292.35,388.38 L289.65,386.18 L286.89,387.56 L285.56,382.54 L283.05,383.81 L279.57,398.62 L277.93,376.46 L273.92,378.2 L271.99,373.5 L268.81,384.67 L266.9,383.1 L265.33,378.32 L261.95,367.31 L259,378.71 L257.32,366.37 L253.91,366.84 L252.32,362.88 L250.1,360 L247.18,362.02 L244.17,359.68 L242.83,372.97 L239.43,361.57 L237.49,349.27 L234.17,366.76 L232.22,346.61 L229.65,344.16 L228.11,347 L225.12,344.58 L222.54,341.74 L219.91,343.98 L216.69,337.82 L213.8,346.96 L210.77,337.97 L208.01,337.23 L206.63,345.53 L202.92,335.82 L200.38,330.83 L198.46,326.56 L194.71,342.54 L193.23,328.73 L190.49,336.85 L187.02,324.29 L184.46,325.08 L181.07,325.14 L178.28,322.7 L176.42,333.3 L173.43,319.62 L171.43,313.61 L168.36,312.39 L166.99,310.57 L163.86,312.21 L161.1,326.2 L157.91,303.04 L155.52,306.02 L153.74,304.8 L151.37,303.49 L148.47,312.83 L145.49,295.18 L143.03,292.3 L140.51,293.67 L138.79,295.43 L135.61,291.63 L133.15,290.59 L130.18,287.91 L128.18,296.3 L125.27,284.79 L123.45,284.14 L120.9,276.29 L118.46,280.65 L115.86,277.97 L113.84,271.72 L110.81,270.09 L107.75,282.04 L106.45,269.31 L102.69,267.19 L101.19,265.87 L97.91,261.83 L96.09,259.51 L93.63,261.81 L90.25,259.05 L89.08,255.8 L85.88,255.1 L83.1,251.95 L81.57,248.47 L78.34,256.37 L75.15,247.22 L73.37,245.41 L71.01,256.29 L68.45,244.45 L64.87,240.52 L62.68,239.13 L59.58,233.21 L57.72,231.4 L55.33,229.73 L52.7,232.96 L49.98,231.97 L46.49,235.19 L44.6,220 Z"/></clipPath></defs>
<g clip-path="url(#surfA2)"><g filter="url(#jetA)"><rect x="0" y="0" width="660" height="430" fill="rgb(143,143,143)"/><polygon points="503,131 490,145 472,165 444,220 412,262 388,292 365,325 344,357 323,387 308,398 272,376 225,343 179,320 133,288 86,253 44.6,225 44.6,250 86,278 133,313 179,345 225,368 272,401 308,423 323,412 344,382 365,350 388,317 412,287 444,245 472,190 490,170 503,156" fill="rgb(76,76,76)"/><polygon points="38,200 100,186 146,216 162,266 152,292 130,290 86,252 40,224" fill="rgb(219,219,219)"/><ellipse cx="80" cy="222" rx="30" ry="16" transform="rotate(35 80 222)" fill="rgb(237,237,237)"/><polygon points="95,193 150,156 255,150 262,167 150,173 112,200" fill="rgb(199,199,199)"/><polygon points="158,266 215,268 262,290 287,318 282,345 236,352 183,318 158,300" fill="rgb(199,199,199)"/><ellipse cx="203" cy="294" rx="30" ry="15" transform="rotate(32 203 294)" fill="rgb(230,230,230)"/><polygon points="335,175 370,137 388,108 470,108 482,140 470,170 445,215 430,232 380,226 335,202" fill="rgb(184,184,184)"/><ellipse cx="412" cy="118" rx="24" ry="9" transform="rotate(15 412 118)" fill="rgb(230,230,230)"/><ellipse cx="397" cy="153" rx="18" ry="9" transform="rotate(15 397 153)" fill="rgb(245,245,245)"/><ellipse cx="445" cy="150" rx="20" ry="10" transform="rotate(15 445 150)" fill="rgb(219,219,219)"/><ellipse cx="388" cy="202" rx="45" ry="13" transform="rotate(25 388 202)" fill="rgb(204,204,204)"/><ellipse cx="430" cy="92" rx="35" ry="7" transform="rotate(20 430 92)" fill="rgb(173,173,173)"/><ellipse cx="492" cy="130" rx="12" ry="14" transform="rotate(0 492 130)" fill="rgb(133,133,133)"/><ellipse cx="350" cy="160" rx="12" ry="8" transform="rotate(0 350 160)" fill="rgb(153,153,153)"/><ellipse cx="345" cy="305" rx="70" ry="55" transform="rotate(-40 345 305)" fill="rgb(120,120,120)"/><ellipse cx="250" cy="365" rx="40" ry="20" transform="rotate(30 250 365)" fill="rgb(117,117,117)"/><ellipse cx="296" cy="272" rx="15" ry="34" transform="rotate(-10 296 272)" fill="rgb(69,69,69)"/><ellipse cx="296" cy="262" rx="8" ry="18" transform="rotate(-10 296 262)" fill="rgb(51,51,51)"/><ellipse cx="350" cy="264" rx="14" ry="8" transform="rotate(0 350 264)" fill="rgb(76,76,76)"/><ellipse cx="324" cy="323" rx="10" ry="6" transform="rotate(0 324 323)" fill="rgb(82,82,82)"/><ellipse cx="290" cy="374" rx="14" ry="8" transform="rotate(0 290 374)" fill="rgb(92,92,92)"/><ellipse cx="340" cy="80" rx="40" ry="18" transform="rotate(20 340 80)" fill="rgb(115,115,115)"/><ellipse cx="231" cy="100" rx="9" ry="5" transform="rotate(-30 231 100)" fill="rgb(76,76,76)"/><ellipse cx="200" cy="215" rx="24" ry="10" transform="rotate(-30 200 215)" fill="rgb(112,112,112)"/><ellipse cx="440" cy="52" rx="14" ry="8" transform="rotate(20 440 52)" fill="rgb(112,112,112)"/><ellipse cx="288" cy="180" rx="75" ry="32" transform="rotate(-52 288 180)" fill="rgb(143,143,143)"/></g></g>
<g clip-path="url(#surfA2)" filter="url(#soft2)"><polygon points="330.3,119.3 341.5,137.2 334.8,166.3 314.6,199.9 290,226.8 263.1,240.2 243,236.9 237.4,220.1 251.9,191 276.6,159.6 305.7,132.7" fill="#78ea5c"/><polygon points="321.4,121.5 301.2,135 269.8,164.1 245.2,196.6 238.5,219 247.4,202.2 274.3,170.8 305.7,141.7" fill="#b8e44c" opacity="0.8"/><polygon points="339.3,157.4 334.8,175.3 314.6,202.2 290,226.8 265.4,240.2 285.5,220.1 310.2,193.2 325.8,170.8" fill="#2e6a28" opacity="0.8"/><polygon points="311.3,142.8 328.1,160.7 313.5,188.7 287.8,217.8 262,232.4 246.3,224.6 258.6,199.9 281,174.2 299,151.8" fill="#2c62f0"/><polygon points="321.4,163 310.2,186.5 287.8,211.1 265.4,226.8 283.3,206.6 305.7,182" fill="#0a1aa0"/></g>
<path d="M503.56,128.17 v7.12 M485.83,149.32 v7.44 M472.23,164.58 v9.57 M454.76,192.29 v11.36 M446.15,208.75 v8.27 M394.12,283.95 v7.63 M382.77,310.31 v5.98 M378.46,302.79 v8.25 M361.2,340.38 v6.91 M354.12,338.88 v11.43 M346.85,365.02 v5.76 M332.92,368.44 v5.4 M317.45,385.36 v6.07 M297.24,390.82 v7.32 M261.95,364.31 v3.26 M210.77,334.97 v11.59 M190.49,333.85 v7.64 M163.86,309.21 v4.86 M153.74,301.8 v7.19 M138.79,292.43 v3.2 M118.46,277.65 v5.6 M102.69,264.19 v5.03 M73.37,242.41 v8.7 M57.72,228.4 v4.22" stroke="#3a62e0" stroke-width="1.2" fill="none" opacity="0.75"/>
<line x1="137" y1="103.5" x2="404.3" y2="235.5" stroke="#ff1c1c" stroke-width="3.6" stroke-dasharray="9.5 4.2"/>
<text transform="translate(145.2,96.9) scale(0.97,1)" font-family="'Liberation Serif', 'Times New Roman', serif" font-weight="bold" font-size="50.91" fill="#ff0000">A</text>
<text transform="translate(400.24,221.1) scale(0.83,1)" font-family="'Liberation Serif', 'Times New Roman', serif" font-weight="bold" font-size="55.15" fill="#ff0000" opacity="0.92">A</text>
<text transform="translate(6.23,280.47) scale(1.2,1)" font-family="'Liberation Sans', Arial, sans-serif" font-weight="normal" font-size="13" fill="#5a5a5a">1.910 mm</text>
<text transform="translate(79.35,315.37) scale(1.06,1)" font-family="'Liberation Sans', Arial, sans-serif" font-weight="normal" font-size="13.29" fill="#5a5a5a">1.432</text>
<text transform="translate(141.03,353.17) scale(1.08,1)" font-family="'Liberation Sans', Arial, sans-serif" font-weight="normal" font-size="13.29" fill="#5a5a5a">0.955</text>
<text transform="translate(207.52,393.57) scale(1.08,1)" font-family="'Liberation Sans', Arial, sans-serif" font-weight="normal" font-size="13.29" fill="#5a5a5a">0.477</text>
<text transform="translate(368.32,344.57) scale(1.09,1)" font-family="'Liberation Sans', Arial, sans-serif" font-weight="normal" font-size="13.29" fill="#5a5a5a">0.637</text>
<text transform="translate(417.51,272.87) scale(1.1,1)" font-family="'Liberation Sans', Arial, sans-serif" font-weight="normal" font-size="13.29" fill="#5a5a5a">1.273</text>
<text transform="translate(457.81,211.87) scale(1.1,1)" font-family="'Liberation Sans', Arial, sans-serif" font-weight="normal" font-size="13.29" fill="#5a5a5a">1.910</text>
<text transform="translate(492.26,159.37)" font-family="'Liberation Sans', Arial, sans-serif" font-weight="normal" font-size="13.48" fill="#5a5a5a">547 mm</text>
<g><ellipse cx="37.8" cy="256" rx="8.5" ry="2.8" transform="rotate(-38 37.8 256)" fill="#1f8a96"/><path d="M41,262.5 Q44.5,254 49,262 Z" fill="#a05a1a"/></g>
<g><ellipse cx="513" cy="147" rx="8" ry="2.6" transform="rotate(15 513 147)" fill="#2a8a9a"/><ellipse cx="508" cy="151" rx="3.5" ry="2.2" fill="#a0622a"/></g>
<rect x="581.5" y="41" width="30" height="198.5" fill="#eaf2fb"/>
<rect x="582.5" y="41.8" width="28.5" height="197" fill="url(#jet)"/>
<path d="M575.6,41.8 h6.9 M611,41.8 h7 M575.6,91.05 h6.9 M611,91.05 h7 M575.6,140.3 h6.9 M611,140.3 h7 M575.6,189.55 h6.9 M611,189.55 h7 M575.6,238.8 h6.9 M611,238.8 h7" stroke="#b0b0b0" stroke-width="1.1" fill="none"/>
<text transform="translate(516.74,53.78) scale(1.17,1)" font-family="'Liberation Sans', Arial, sans-serif" font-weight="normal" font-size="11.87" fill="#5a5a5a">5.625 μm</text>
<text transform="translate(512.68,234.28) scale(1.16,1)" font-family="'Liberation Sans', Arial, sans-serif" font-weight="normal" font-size="11.87" fill="#5a5a5a">-5.174 μm</text>
<text transform="translate(618.33,53.9) scale(1.1,1)" font-family="'Liberation Sans', Arial, sans-serif" font-weight="normal" font-size="12.22" fill="#5a5a5a">x1.0</text>
<rect x="612.5" y="8.3" width="32" height="33" fill="url(#btn)" stroke="#b8d0ea" stroke-width="1"/><path d="M628.5,11.8 L638.5,22.8 L633,22.8 L633,35.8 Q628.5,38.8 624,35.8 L624,22.8 L618.5,22.8 Z" fill="url(#arrowg)"/>
<rect x="582.5" y="239.8" width="29" height="32.6" fill="url(#btn)" stroke="#b8d0ea" stroke-width="1"/><path d="M586,268.9 L587,252.9 L592,257.9 L601,246.3 Q606,244.3 608,249.3 L598,262.9 L602,268.9 Z" fill="url(#arrowg)"/>
<rect x="612.5" y="239.8" width="32" height="32.6" fill="url(#btn)" stroke="#b8d0ea" stroke-width="1"/><path d="M628.5,267.9 L638.5,256.9 L633,256.9 L633,244.3 L624,244.3 L624,256.9 L618.5,256.9 Z" fill="url(#arrowg)"/>
<defs><filter id="jetMA" filterUnits="userSpaceOnUse" x="0" y="370" width="140" height="60" color-interpolation-filters="sRGB">
<feGaussianBlur in="SourceGraphic" stdDeviation="2.5" result="hm"/>
<feTurbulence type="fractalNoise" baseFrequency="0.16" numOctaves="3" seed="3" result="tn"/>
<feColorMatrix in="tn" type="matrix" values="1 0 0 0 0  1 0 0 0 0  1 0 0 0 0  0 0 0 0 1" result="n0"/>
<feComponentTransfer in="n0" result="n"><feFuncR type="table" tableValues="0 0.25 0.5 0.75 1"/><feFuncG type="table" tableValues="0 0.25 0.5 0.75 1"/><feFuncB type="table" tableValues="0 0.25 0.5 0.75 1"/></feComponentTransfer>
<feComposite in="hm" in2="n" operator="arithmetic" k1="0" k2="1" k3="0.45" k4="-0.2" result="h"/>
<feComponentTransfer in="h" result="c">
<feFuncR type="table" tableValues="0 0.04 0.1 0.22 0.27 0.35 0.55 0.69 0.78 0.92 1"/>
<feFuncG type="table" tableValues="0 0.06 0.2 0.47 0.76 0.94 0.86 0.59 0.31 0.12 0"/>
<feFuncB type="table" tableValues="0.39 0.67 0.88 0.94 0.84 0.43 0.16 0.06 0.02 0 0"/>
<feFuncA type="table" tableValues="1 1"/>
</feComponentTransfer>
<feTurbulence type="fractalNoise" baseFrequency="0.5" numOctaves="2" seed="4" result="t2"/>
<feColorMatrix in="t2" type="matrix" values="0.4 0 0 0 0.78  0.4 0 0 0 0.78  0.4 0 0 0 0.78  0 0 0 0 1" result="n2"/>
<feBlend in="c" in2="n2" mode="multiply"/>
<feGaussianBlur stdDeviation="0.6"/></filter></defs>
<g><clipPath id="mmA"><rect x="5" y="379.5" width="130" height="41.5"/></clipPath></g>
<g clip-path="url(#mmA)"><g filter="url(#jetMA)"><rect x="0" y="370" width="140" height="60" fill="rgb(133,133,133)"/><ellipse cx="18" cy="412" rx="18" ry="12" transform="rotate(0 18 412)" fill="rgb(189,189,189)"/><ellipse cx="28" cy="420" rx="12" ry="6" transform="rotate(0 28 420)" fill="rgb(209,209,209)"/><ellipse cx="40" cy="392" rx="14" ry="6" transform="rotate(0 40 392)" fill="rgb(158,158,158)"/><ellipse cx="80" cy="383" rx="14" ry="6" transform="rotate(0 80 383)" fill="rgb(61,61,61)"/><ellipse cx="68" cy="390" rx="8" ry="5" transform="rotate(0 68 390)" fill="rgb(92,92,92)"/><ellipse cx="62" cy="413" rx="8" ry="6" transform="rotate(0 62 413)" fill="rgb(76,76,76)"/><ellipse cx="97" cy="410" rx="8" ry="6" transform="rotate(0 97 410)" fill="rgb(87,87,87)"/><ellipse cx="118" cy="398" rx="6" ry="6" transform="rotate(0 118 398)" fill="rgb(102,102,102)"/><ellipse cx="105" cy="388" rx="8" ry="4" transform="rotate(0 105 388)" fill="rgb(153,153,153)"/><ellipse cx="124" cy="415" rx="10" ry="6" transform="rotate(0 124 415)" fill="rgb(168,168,168)"/><ellipse cx="85" cy="405" rx="8" ry="5" transform="rotate(0 85 405)" fill="rgb(153,153,153)"/></g></g>
<path d="M4.5,379 H134.5 V421" stroke="#6ea8e0" stroke-width="1.6" fill="none"/>
<rect x="119.5" y="381" width="13.5" height="15" fill="#f4f6f9"/><path d="M123.5,384 h5.5 l-1.5,9 h-2.5 Z" fill="none" stroke="#9a9a9a" stroke-width="1.1"/>
<rect x="3.5" y="3.7" width="649.3" height="418" fill="none" stroke="#ff3a3a" stroke-width="2.4"/>
<text transform="translate(14.48,58.57) scale(1.04,1)" font-family="'Liberation Serif', 'Times New Roman', serif" font-weight="bold" font-size="62.26" fill="#000">(a)</text>
<defs>
<filter id="streakB" filterUnits="userSpaceOnUse" x="-200" y="300" width="1000" height="800" color-interpolation-filters="sRGB">
<feTurbulence type="fractalNoise" baseFrequency="0.022 0.3" numOctaves="2" seed="5"/>
<feColorMatrix type="matrix" values="0 0 0 0 0.3  0 0 0 0 0  0 0 0 0 0  -2.6 0 0 0 1.24"/>
</filter>
<filter id="streakB2" filterUnits="userSpaceOnUse" x="-200" y="300" width="1000" height="800" color-interpolation-filters="sRGB">
<feTurbulence type="fractalNoise" baseFrequency="0.025 0.25" numOctaves="2" seed="9"/>
<feColorMatrix type="matrix" values="0 0 0 0 1  0 0 0 0 0.15  0 0 0 0 0.1  2.6 0 0 0 -1.35"/>
</filter>
<radialGradient id="craterB" gradientUnits="userSpaceOnUse" cx="0" cy="0" r="1" fx="0.04" fy="0.44" gradientTransform="translate(295 613) rotate(-14) scale(140 99)">
<stop offset="0" stop-color="#000a60"/>
<stop offset="0.2" stop-color="#0818b8"/>
<stop offset="0.36" stop-color="#1f48e8"/>
<stop offset="0.5" stop-color="#2f7cf0"/>
<stop offset="0.57" stop-color="#40b4e4"/>
<stop offset="0.64" stop-color="#5ae09a"/>
<stop offset="0.71" stop-color="#84ee4e"/>
<stop offset="0.78" stop-color="#bcd62a"/>
<stop offset="0.85" stop-color="#e07a12"/>
<stop offset="0.92" stop-color="#f03c06"/>
<stop offset="1" stop-color="#ec1c06"/>
</radialGradient>
<radialGradient id="mmB" gradientUnits="userSpaceOnUse" cx="0" cy="0" r="1" gradientTransform="translate(28 866) scale(80 50)">
<stop offset="0" stop-color="#0008b0"/>
<stop offset="0.4" stop-color="#1a40e0"/>
<stop offset="0.55" stop-color="#3a80f0"/>
<stop offset="0.64" stop-color="#48c8d0"/>
<stop offset="0.72" stop-color="#70f070"/>
<stop offset="0.8" stop-color="#90ec50"/>
<stop offset="0.88" stop-color="#d07010"/>
<stop offset="0.95" stop-color="#e83008"/>
<stop offset="1" stop-color="#e62406"/>
</radialGradient>
</defs>
<polygon points="34,651 274.5,455.2 276,470 36,665" fill="#fff"/>
<polygon points="274.5,455.2 514,531 514,545 276,470" fill="#fff"/>
<path d="M47.36,640.12 v14 M60.72,629.24 v14 M74.08,618.37 v14 M87.44,607.49 v14 M100.81,596.61 v14 M114.17,585.73 v14 M127.53,574.86 v14 M140.89,563.98 v14 M154.25,553.1 v14 M167.61,542.22 v14 M180.97,531.34 v14 M194.33,520.47 v14 M207.69,509.59 v14 M221.06,498.71 v14 M234.42,487.83 v14 M247.78,476.96 v14 M261.14,466.08 v14 M288.59,459.66 v14 M302.68,464.12 v14 M316.76,468.58 v14 M330.85,473.04 v14 M344.94,477.49 v14 M359.03,481.95 v14 M373.12,486.41 v14 M387.21,490.87 v14 M401.29,495.33 v14 M415.38,499.79 v14 M429.47,504.25 v14 M443.56,508.71 v14 M457.65,513.16 v14 M471.74,517.62 v14 M485.82,522.08 v14 M499.91,526.54 v14 M34,657 L274.5,461.2 L514,537" stroke="#d2d2d2" stroke-width="0.9" fill="none"/>
<path d="M34,651 L274.5,455.2 L514,531 L506,571" stroke="#bdbdbd" stroke-width="1.1" fill="none"/>
<polygon points="53,707 316,849 506,571 511,538 318,804 36.6,659" fill="#fdfdfd"/>
<path d="M73.23,717.92 l33.86,-49.54 M93.46,728.85 l33.86,-49.54 M113.69,739.77 l33.86,-49.54 M133.92,750.69 l33.86,-49.54 M154.15,761.62 l33.86,-49.54 M174.38,772.54 l33.86,-49.54 M194.62,783.46 l33.86,-49.54 M214.85,794.38 l33.86,-49.54 M235.08,805.31 l33.86,-49.54 M255.31,816.23 l33.86,-49.54 M275.54,827.15 l33.86,-49.54 M295.77,838.08 l33.86,-49.54 M330.62,827.62 l-52.8,-28.51 M345.23,806.23 l-52.8,-28.51 M359.85,784.85 l-52.8,-28.51 M374.46,763.46 l-52.8,-28.51 M389.08,742.08 l-52.8,-28.51 M403.69,720.69 l-52.8,-28.51 M418.31,699.31 l-52.8,-28.51 M432.92,677.92 l-52.8,-28.51 M447.54,656.54 l-52.8,-28.51 M462.15,635.15 l-52.8,-28.51 M476.77,613.77 l-52.8,-28.51 M491.38,592.38 l-52.8,-28.51 M62.59,692.96 L325.59,834.96 M301.04,840.92 L491.04,562.92 M72.18,678.93 L335.18,820.93 M286.08,832.85 L476.08,554.85" stroke="#dadada" stroke-width="0.9" fill="none"/>
<path d="M53,707 L316,849 L489,605" stroke="#b8b8b8" stroke-width="1.4" fill="none"/>
<path d="M34,651 L53,707 M53,707 L76,688" stroke="#d0d0d0" stroke-width="1" fill="none"/>
<defs><clipPath id="surfB"><path d="M36.6,659 L41.4,655.14 L46.19,651.69 L50.99,648.04 L55.78,643.06 L60.58,639.93 L65.38,635.93 L70.17,631.96 L74.97,627.18 L79.76,623.14 L84.56,619.81 L89.36,616.49 L94.15,611.8 L98.95,608.3 L103.74,604.11 L108.54,601.05 L113.34,597.31 L118.13,592.54 L122.93,589.6 L127.72,584.2 L132.52,581.5 L137.32,577.7 L142.11,572.64 L146.91,569.63 L151.7,565.49 L156.5,562.23 L161.3,557.14 L166.09,553.76 L170.89,550.41 L175.68,546.12 L180.48,541.69 L185.28,537.43 L190.07,534.9 L194.87,530.26 L199.66,527.19 L204.46,521.93 L209.26,519.1 L214.05,515.2 L218.85,511.47 L223.64,506.13 L228.44,502.8 L233.24,498.38 L238.03,495.6 L242.83,491.07 L247.62,488.14 L252.42,483.3 L257.22,480.04 L262.01,476.29 L266.81,471.38 L271.6,467.99 L276.4,464 L281.09,466.21 L285.78,467 L290.48,468.22 L295.17,469.55 L299.86,471.86 L304.55,472.39 L309.24,474.53 L313.94,475.93 L318.63,477.41 L323.32,478.21 L328.01,480.53 L332.7,482.43 L337.4,482.95 L342.09,484.45 L346.78,486.85 L351.47,487.81 L356.16,488.8 L360.86,489.86 L365.55,492.53 L370.24,493.36 L374.93,495.03 L379.62,496.2 L384.32,498.25 L389.01,499.89 L393.7,500.7 L398.39,501.8 L403.08,504.74 L407.78,506.1 L412.47,506.15 L417.16,508.5 L421.85,510.18 L426.54,511.2 L431.24,513.21 L435.93,515.06 L440.62,515.94 L445.31,517.11 L450,518.27 L454.7,519.84 L459.39,521.16 L464.08,522.58 L468.77,524.22 L473.46,526.71 L478.16,527.7 L482.85,529.61 L487.54,531.27 L492.23,532.58 L496.92,532.84 L501.62,535.72 L506.31,535.87 L511,538 L507.14,545.9 L503.28,552.92 L499.42,557.41 L495.56,560.85 L491.7,565.67 L487.84,571.3 L483.98,578.12 L480.12,582.22 L476.26,588.5 L472.4,593.66 L468.54,597.52 L464.68,603.97 L460.82,609.53 L456.96,615.02 L453.1,619.68 L449.24,626.19 L445.38,631.83 L441.52,637.21 L437.66,641.26 L433.8,648.26 L429.94,652.16 L426.08,657.31 L422.22,662.98 L418.36,667.29 L414.5,672.82 L410.64,678.2 L406.78,685.23 L402.92,690.22 L399.06,694.17 L395.2,700.53 L391.34,704.51 L387.48,710.31 L383.62,716.11 L379.76,720.76 L375.9,726.96 L372.04,731.56 L368.18,739.31 L364.32,743.03 L360.46,746.85 L356.6,753.81 L352.74,757.99 L348.88,763.66 L345.02,769.84 L341.16,773.48 L337.3,781.01 L333.44,786.2 L329.58,790.79 L325.72,796.47 L321.86,801.89 L318,806.53 L313.31,803.38 L308.62,800.96 L303.93,799.83 L299.24,796.44 L294.55,794.16 L289.86,793.72 L285.17,790.95 L280.48,786.56 L275.79,784.78 L271.1,782.38 L266.41,780.04 L261.72,777.41 L257.03,775.1 L252.34,770.69 L247.65,769.99 L242.96,769.63 L238.27,765.09 L233.58,763.82 L228.89,758.69 L224.2,759.29 L219.51,755.68 L214.82,752.55 L210.13,750.99 L205.44,748.97 L200.75,744.93 L196.06,743.63 L191.37,742.88 L186.68,740.42 L181.99,736.75 L177.3,732.37 L172.61,731.09 L167.92,728.14 L163.23,727.59 L158.54,724.67 L153.85,721.01 L149.16,719.87 L144.47,717.61 L139.78,715.72 L135.09,711.42 L130.4,709.09 L125.71,708.58 L121.02,705.49 L116.33,703.17 L111.64,700.84 L106.95,696.92 L102.26,695.15 L97.57,693.16 L92.88,690.61 L88.19,687.14 L83.5,685.56 L78.81,682.61 L74.12,681.52 L69.43,678.28 L64.74,674.58 L60.05,673.89 L55.36,672.46 L50.67,669.01 L45.98,665.6 L41.29,663.54 L36.6,661.31 Z"/></clipPath></defs>
<g clip-path="url(#surfB)"><rect x="0" y="440" width="660" height="420" fill="#e81a08"/><ellipse cx="295" cy="613" rx="140" ry="99" transform="rotate(-14 295 613)" fill="url(#craterB)"/><g mask="url(#notCr)"><g transform="rotate(-24 280 650)"><rect x="-100" y="380" width="800" height="560" filter="url(#streakB)"/></g></g><g clip-path="url(#crB)" opacity="0.6"><g transform="rotate(-62 295 613)"><rect x="-100" y="300" width="800" height="700" filter="url(#streakB)"/></g></g><g mask="url(#notCr)"><g transform="rotate(-24 280 650)" opacity="0.55"><rect x="-100" y="380" width="800" height="560" filter="url(#streakB2)"/></g></g><defs><clipPath id="crB"><ellipse cx="295" cy="613" rx="140" ry="99" transform="rotate(-14 295 613)"/></clipPath><mask id="notCr" maskUnits="userSpaceOnUse" x="0" y="440" width="660" height="420"><rect x="0" y="440" width="660" height="420" fill="#fff"/><ellipse cx="295" cy="613" rx="136" ry="95" transform="rotate(-14 295 613)" fill="#000" filter="url(#soft3)"/></mask></defs><g clip-path="url(#crB)"><path d="M374.12,521.13 L383.67,525.31 L392.54,530.16 L400.67,535.64 L407.99,541.71 L414.46,548.32 L420.01,555.42 L424.62,562.96 L428.24,570.89 L430.84,579.13 L432.41,587.63 L432.94,596.33 L432.41,605.15 L430.84,614.03 L428.24,622.9 L424.62,631.7 L420.01,640.35 L414.46,648.8 L407.99,656.98 L400.66,664.82 L392.53,672.26 L383.66,679.26" stroke="#4a1206" stroke-width="22" fill="none" opacity="0.45" filter="url(#soft3)"/></g></g>
<path d="M243,766 l2,22 l1.6,-22 Z M231,757 l2,12 l1.5,-12 Z M315,800 l2.5,12 l2,-12 Z M160,725 l1.5,9 l1.2,-9 Z" fill="#d81a08"/>
<path d="M244.6,782 l0.6,6 l0.5,-6 Z" fill="#8ab040"/>
<line x1="160.5" y1="556.6" x2="428" y2="665.8" stroke="#1414ff" stroke-width="3.6" stroke-dasharray="9.5 4.2"/>
<text transform="translate(176.25,536.37) scale(0.95,1)" font-family="'Liberation Serif', 'Times New Roman', serif" font-weight="bold" font-size="51.41" fill="#0000ff">B</text>
<text transform="translate(421.85,639.57) scale(0.93,1)" font-family="'Liberation Serif', 'Times New Roman', serif" font-weight="bold" font-size="52.17" fill="#0000ff">B</text>
<text transform="translate(8.06,720.37) scale(1.19,1)" font-family="'Liberation Sans', Arial, sans-serif" font-weight="normal" font-size="12.72" fill="#5a5a5a">1.910 mm</text>
<text transform="translate(82.33,753.67) scale(1.07,1)" font-family="'Liberation Sans', Arial, sans-serif" font-weight="normal" font-size="13.29" fill="#5a5a5a">1.432</text>
<text transform="translate(144.01,788.57) scale(1.11,1)" font-family="'Liberation Sans', Arial, sans-serif" font-weight="normal" font-size="13.29" fill="#5a5a5a">0.955</text>
<text transform="translate(211.52,826.07) scale(1.1,1)" font-family="'Liberation Sans', Arial, sans-serif" font-weight="normal" font-size="13.29" fill="#5a5a5a">0.477</text>
<text transform="translate(369.32,776.77) scale(1.09,1)" font-family="'Liberation Sans', Arial, sans-serif" font-weight="normal" font-size="13.29" fill="#5a5a5a">0.637</text>
<text transform="translate(415.98,707.77) scale(1.13,1)" font-family="'Liberation Sans', Arial, sans-serif" font-weight="normal" font-size="13.29" fill="#5a5a5a">1.273</text>
<text transform="translate(457.45,648.67) scale(1.06,1)" font-family="'Liberation Sans', Arial, sans-serif" font-weight="normal" font-size="13.29" fill="#5a5a5a">1.910</text>
<text transform="translate(473.5,595.57) scale(1.2,1)" font-family="'Liberation Sans', Arial, sans-serif" font-weight="normal" font-size="13.29" fill="#5a5a5a">2.547 mm</text>
<g><ellipse cx="36.8" cy="697" rx="8.5" ry="2.8" transform="rotate(-38 36.8 697)" fill="#1f8a96"/><path d="M39.4,703.5 Q43.5,695 48.5,703 Z" fill="#a05a1a"/></g>
<g><ellipse cx="511" cy="579" rx="8" ry="2.6" transform="rotate(15 511 579)" fill="#2a8a9a"/><ellipse cx="506" cy="583" rx="3.5" ry="2.2" fill="#a0622a"/></g>
<rect x="581" y="498.7" width="30.2" height="174.6" fill="#eaf2fb"/>
<rect x="582" y="499.5" width="28.5" height="173" fill="url(#jet)"/>
<path d="M575,499.5 h7 M610.5,499.5 h7 M575,542.75 h7 M610.5,542.75 h7 M575,586 h7 M610.5,586 h7 M575,629.25 h7 M610.5,629.25 h7 M575,672.5 h7 M610.5,672.5 h7" stroke="#b0b0b0" stroke-width="1.1" fill="none"/>
<text transform="translate(508.41,510.79) scale(1.23,1)" font-family="'Liberation Sans', Arial, sans-serif" font-weight="normal" font-size="11.31" fill="#5a5a5a">22.506 μm</text>
<text transform="translate(503.37,670.19) scale(1.23,1)" font-family="'Liberation Sans', Arial, sans-serif" font-weight="normal" font-size="11.31" fill="#5a5a5a">-62.052 μm</text>
<text transform="translate(617.52,510.9) scale(1.22,1)" font-family="'Liberation Sans', Arial, sans-serif" font-weight="normal" font-size="11.64" fill="#5a5a5a">x1.0</text>
<rect x="612.1" y="470.4" width="31.700000000000003" height="28.2" fill="url(#btn)" stroke="#b8d0ea" stroke-width="1"/><path d="M627.95,473.9 L637.95,484.9 L632.45,484.9 L632.45,493.1 Q627.95,496.1 623.45,493.1 L623.45,484.9 L617.95,484.9 Z" fill="url(#arrowg)"/>
<rect x="582.5" y="673.9" width="28.5" height="28.2" fill="url(#btn)" stroke="#b8d0ea" stroke-width="1"/><path d="M586,698.6 L587,682.6 L592,687.6 L601,680.4 Q606,678.4 608,683.4 L598,692.6 L602,698.6 Z" fill="url(#arrowg)"/>
<rect x="612.0" y="673.9" width="31.5" height="28.2" fill="url(#btn)" stroke="#b8d0ea" stroke-width="1"/><path d="M627.75,697.6 L637.75,686.6 L632.25,686.6 L632.25,678.4 L623.25,678.4 L623.25,686.6 L617.75,686.6 Z" fill="url(#arrowg)"/>
<defs><clipPath id="mmBc"><rect x="5" y="797" width="126" height="53"/></clipPath></defs>
<g clip-path="url(#mmBc)"><rect x="5" y="797" width="126" height="53" fill="#e62406"/><rect x="5" y="797" width="126" height="53" fill="url(#mmB)"/></g>
<path d="M4.8,796.3 H131 V850" stroke="#80b4e4" stroke-width="1.6" fill="none"/>
<rect x="115.4" y="797.3" width="13.9" height="14.4" fill="#eef1f6"/><path d="M119.5,800.5 h5.5 l-1.5,8.5 h-2.5 Z" fill="none" stroke="#9a9a9a" stroke-width="1.1"/>
<rect x="549.5" y="840.9" width="24.5" height="12" fill="url(#btn)" stroke="#b8d0ea" stroke-width="1"/>
<path d="M554,851 a6.5,6.5 0 0 1 13,0 Z" fill="#6a98d8"/>
<rect x="580.9" y="840.9" width="32.5" height="12" fill="url(#btn)" stroke="#b8d0ea" stroke-width="1"/>
<path d="M590,851 L597,843.5 L604,851 Z" fill="#8a8a8a"/>
<rect x="3.7" y="452.2" width="649.3" height="399.2" fill="none" stroke="#4d4dff" stroke-width="2.6"/>
<text transform="translate(15.24,508.17) scale(1.02,1)" font-family="'Liberation Serif', 'Times New Roman', serif" font-weight="bold" font-size="62.26" fill="#000">(b)</text>
</svg></body></html>
